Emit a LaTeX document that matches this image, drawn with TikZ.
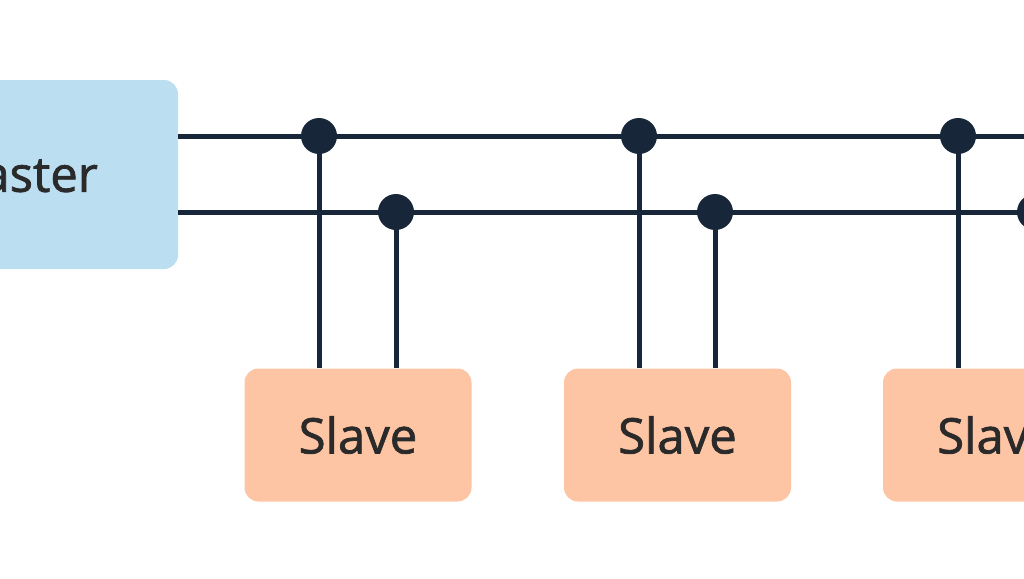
\documentclass[tikz,border=0pt]{standalone}
\usepackage{fontspec}
\setmainfont{Open Sans}
\newfontfamily\semifont[FakeBold=1.5]{Open Sans}
\definecolor{bus}{HTML}{172638}
\definecolor{mfill}{HTML}{BBDEF0}
\definecolor{sfill}{HTML}{FDC5A4}
\definecolor{txt}{HTML}{2A2A2A}
\tikzset{
  masterbox/.style={fill=mfill, rounded corners=14pt, minimum width=320pt, minimum height=189pt, inner sep=0pt, font=\semifont\fontsize{49}{52}\selectfont, text=txt},
  slavebox/.style={fill=sfill, rounded corners=14pt, minimum width=227pt, minimum height=133pt, inner sep=0pt, font=\semifont\fontsize{49}{52}\selectfont, text=txt},
  junction/.style={circle, fill=bus, minimum size=36pt, inner sep=0pt},
  wire/.style={draw=bus, line width=5pt},
}
\begin{document}
\begin{tikzpicture}[x=1pt, y=-1pt]
\useasboundingbox (0,0) rectangle (1024,578);
\clip (0,0) rectangle (1024,578);
\node[masterbox] (m) at (18,174.5) {Master};
\node[slavebox] (s1) at (358,435) {Slave};
\node[slavebox] (s2) at (677.5,435) {Slave};
\node[slavebox] (s3) at (996.5,435) {Slave};
\coordinate (a0) at (178,136);
\coordinate (b0) at (178,212);
\coordinate (a9) at (1060,136);
\coordinate (b9) at (1060,212);
\node[junction] (a1) at (319,136) {};
\node[junction] (b1) at (396,212) {};
\node[junction] (a2) at (639,136) {};
\node[junction] (b2) at (715,212) {};
\node[junction] (a3) at (958,136) {};
\node[junction] (b3) at (1035,212) {};
\draw[wire] (a0) -- (a9);
\draw[wire] (b0) -- (b9);
\foreach \i in {1,2,3}{
  \draw[wire] (a\i.center) -- (a\i.center |- s\i.north);
  \draw[wire] (b\i.center) -- (b\i.center |- s\i.north);
}
\end{tikzpicture}
\end{document}
